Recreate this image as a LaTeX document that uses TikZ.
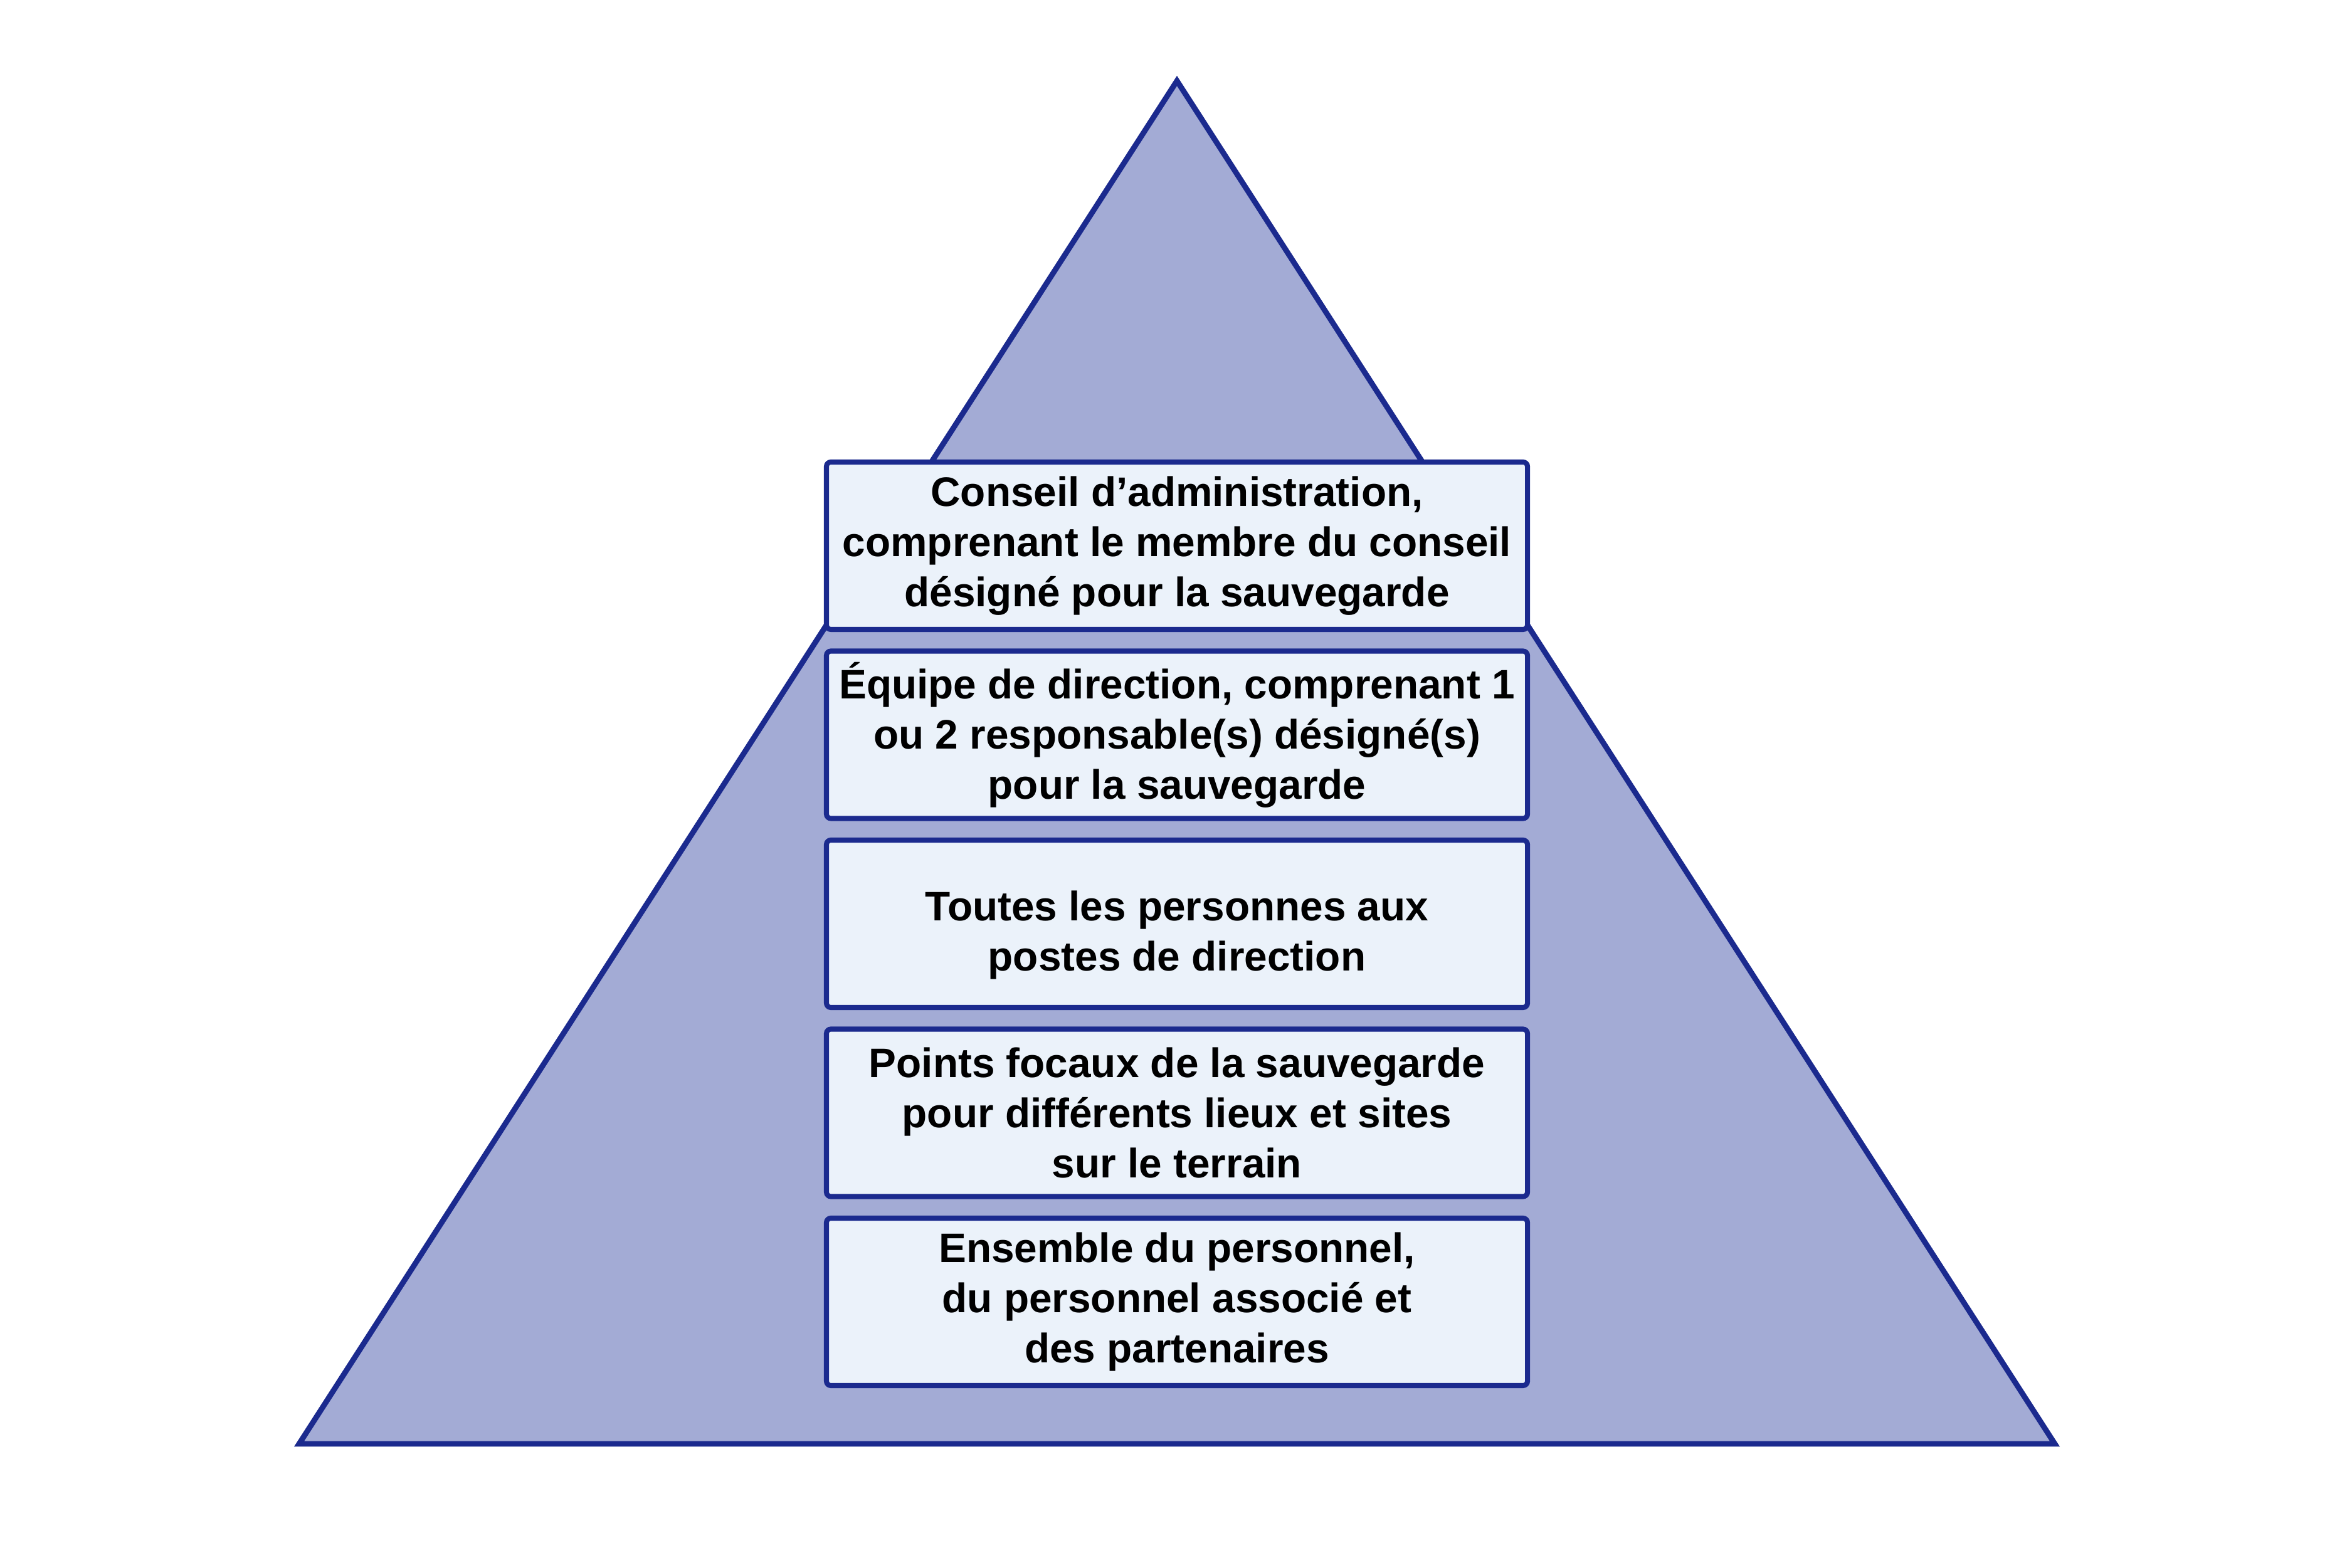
\documentclass[tikz,border=0pt]{standalone}
\usepackage{fontspec}
\setmainfont{Liberation Sans}
\usepackage{tikz}
\usetikzlibrary{positioning}
\definecolor{pyrfill}{HTML}{A3ABD5}
\definecolor{pyrline}{HTML}{1B2A8E}
\definecolor{tierfill}{HTML}{EBF2FA}
\tikzset{
    on grid,
    node distance=3.015cm,
    tier/.style = {
        draw=pyrline,
        fill=tierfill,
        shape=rectangle,
        rounded corners=2pt,
        minimum height=2.67cm,
        minimum width=11.18cm,
        line width=2.3pt,
        align=center,
        font=\fontsize{18.7}{22.8}\selectfont\bfseries
    },
    pyramid/.style = {
        draw=pyrline,
        fill=pyrfill,
        line width=2.5pt,
        line join=miter
    },
}
\begin{document}
\begin{tikzpicture}
            \useasboundingbox (0,0) rectangle (37.51,25);

            \coordinate (top) at (18.77,23.71);
            \coordinate (left) at (4.77,1.97);
            \coordinate (right) at (32.77,1.97);
            \path[pyramid] (top) -- (right) -- (left) -- cycle;

            \node[tier] (board) at (18.77,16.295) {Conseil d’administration,\\comprenant le membre du conseil\\désigné pour la sauvegarde};
            \node[tier] (mgmt) [below=of board] {Équipe de direction, comprenant 1\\ou 2 responsable(s) désigné(s)\\pour la sauvegarde};
            \node[tier] (leaders) [below=of mgmt] {\raisebox{-0.19cm}[\height][\depth]{\begin{tabular}{@{}c@{}}Toutes les personnes aux\\postes de direction\end{tabular}}};
            \node[tier] (focal) [below=of leaders] {Points focaux de la sauvegarde\\pour différents lieux et sites\\sur le terrain};
            \node[tier] (staff) [below=of focal] {Ensemble du personnel,\\du personnel associé et\\des partenaires};
        \end{tikzpicture}
\end{document}
